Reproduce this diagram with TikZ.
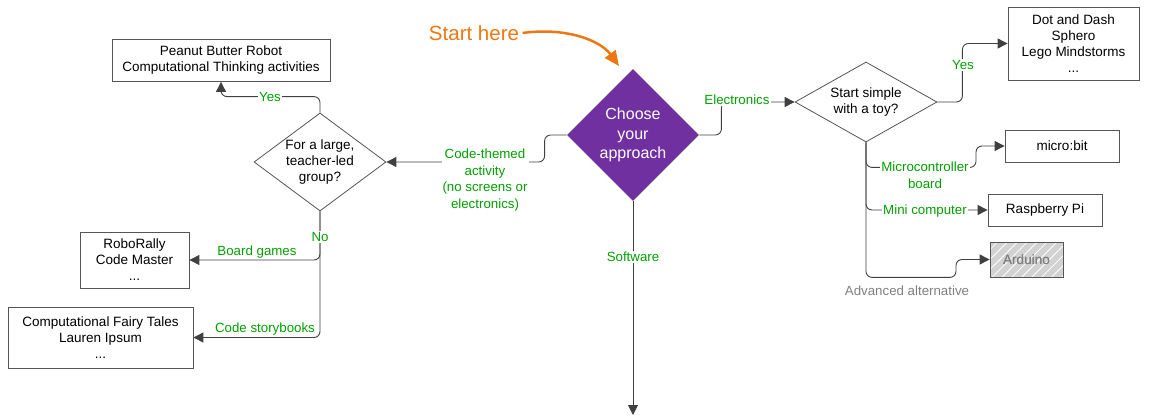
\documentclass[tikz,border=0pt]{standalone}
\usepackage{fontspec}
\setmainfont{Liberation Sans}
\usetikzlibrary{arrows.meta,shapes.geometric,patterns.meta}
\definecolor{lab}{HTML}{00A000}
\definecolor{ln}{HTML}{404040}
\definecolor{bd}{HTML}{555555}
\definecolor{purp}{HTML}{7030A0}
\definecolor{org}{HTML}{EE7711}
\definecolor{gtx}{HTML}{808080}
\begin{document}
\begin{tikzpicture}[x=1pt,y=-1pt,
  box/.style={draw=bd, line width=0.8pt, fill=white, align=center, inner sep=0pt, font=\fontsize{13.5}{16}\selectfont},
  dia/.style={diamond, draw=bd, line width=0.8pt, fill=white, inner sep=0pt},
  dtxt/.style={align=center, font=\fontsize{13.5}{16}\selectfont},
  conn/.style={draw=ln, line width=0.9pt, rounded corners=6pt, -{Triangle[length=10pt,width=10pt]}},
  lbl/.style={text=lab, fill=white, inner sep=1pt, align=center, font=\fontsize{13.3}{16.5}\selectfont}]
\useasboundingbox (0,0) rectangle (1157,418);

% main decision
\node[dia, fill=purp, draw=none, minimum width=132pt, minimum height=132pt,
  label={[text=white, align=center, font=\fontsize{16}{19.5}\selectfont]center:{Choose\\your\\approach}}] (d1) at (633,135) {};

% start here
\node[text=org, font=\fontsize{20.5}{24}\selectfont] (start) at (474,33) {Start here};
\coordinate (sttip) at (619,66);
\draw[org, line width=2.5pt, -{Triangle[length=15pt,width=13pt]}] (start.east) .. controls (565,27) and (600,40) .. (sttip);

% left side
\node[dia, minimum width=132pt, minimum height=98pt,
  label={[dtxt]center:{For a large,\\teacher-led\\group?}}] (d2) at (320,162) {};
\node[box, minimum width=218pt, minimum height=42pt] (pb) at (221,60.5) {Peanut Butter Robot\\Computational Thinking activities};
\node[box, minimum width=109pt, minimum height=56pt] (rr) at (134.5,260) {RoboRally\\Code Master\\...};
\node[box, minimum width=185pt, minimum height=61pt] (cft) at (100.5,337.5) {Computational Fairy Tales\\Lauren Ipsum\\...};

% right side
\node[dia, minimum width=142pt, minimum height=80pt,
  label={[dtxt]center:{Start simple\\with a toy?}}] (d3) at (866,102) {};
\node[box, minimum width=131pt, minimum height=73pt] (dd) at (1073.5,43.5) {Dot and Dash\\Sphero\\Lego Mindstorms\\...};
\node[box, minimum width=114pt, minimum height=32pt] (mb) at (1062,146) {micro:bit};
\node[box, minimum width=114pt, minimum height=32pt] (rp) at (1045,210) {Raspberry Pi};
\node[box, minimum width=73pt, minimum height=35pt, text=gtx,
  preaction={fill=gray!35}, pattern={Lines[angle=45,distance=7pt,line width=0.8pt]}, pattern color=white] (ar) at (1026.5,259.5) {Arduino};
\node[box, minimum width=73pt, minimum height=35pt, fill=none, text=gtx] at (ar) {Arduino};

\coordinate (swend) at (633,415);

% connectors
\draw[conn] (d1.south) -- (swend);
\draw[conn] (d1.west) -- ++(-22,0) |- (d2.east);
\draw[conn] (d1.east) -- ++(22,0) |- (d3.west);
\draw[conn] (d2.north) -- ++(0,-16) -| (pb.south);
\draw[conn] (d2.south) |- (rr.east);
\draw[conn] (d2.south) |- (cft.east);
\draw[conn] (d3.east) -- ++(25,0) |- (dd.west);
\draw[conn] (d3.south) -- ++(0,25) -- ++(110,0) |- (mb.west);
\draw[conn] (d3.south) |- (rp.west);
\draw[conn] (d3.south) -- ++(0,135) -- ++(90,0) |- (ar.west);

% labels
\node[lbl] (lsw) at (633,257) {Software};
\node[lbl] (lcode) at (485,180) {Code-themed\\activity\\(no screens or\\electronics)};
\node[lbl] (lel) at (737,100) {Electronics};
\node[lbl] (lyes1) at (270,97) {Yes};
\node[lbl] (lno) at (320,237) {No};
\node[lbl, fill=none] (lbg) at (257,252) {Board games};
\node[lbl, fill=none] (lcs) at (265,329) {Code storybooks};
\node[lbl] (lyes2) at (963,65) {Yes};
\node[lbl] (lmc) at (925,175) {Microcontroller\\board};
\node[lbl] (lmini) at (925,211) {Mini computer};
\node[lbl, fill=none, text=gtx] (ladv) at (907,291) {Advanced alternative};
\end{tikzpicture}
\end{document}
